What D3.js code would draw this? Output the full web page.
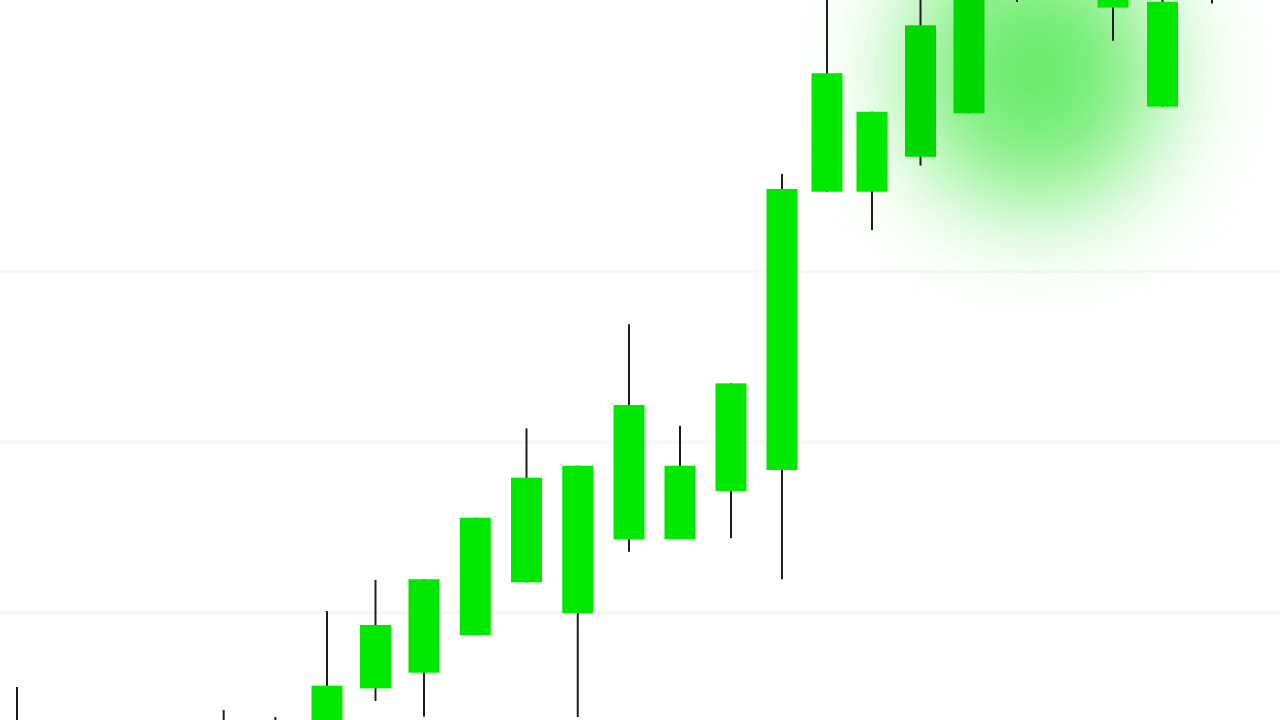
<!DOCTYPE html>
<html>
<head>
<meta charset="utf-8">
<script src="https://cdn.jsdelivr.net/npm/d3@7"></script>
<style>
  html, body { margin: 0; padding: 0; background: #ffffff; overflow: hidden; }
  svg { display: block; }
</style>
</head>
<body>
<svg id="chart" width="1280" height="720"></svg>
<script>
// ---- data (prices in arbitrary units) ----
const days  = ["D1","D2","D3","D4","D5","D6","D7","D8","D9","D10","D11","D12","D13",
               "D14","D15","D16","D17","D18","D19","D20","D21","D22","D23","D24","D25"];
const open  = [5, 0, 5, 10, 10, 15, 35, 55.2, 64.4, 86.5, 117.4, 99.4, 142.6,
               142.8, 171, 183.3, 346.5, 346.5, 367, 392.5, 464.8, 480, 454.5, 396.4, 470];
const close = [30, 20, 25, 28, 30, 34, 56.8, 92.4, 119.2, 155.3, 178.8, 185.8, 221.4,
               185.8, 234.1, 348.1, 416, 393.4, 444.1, 476.5, 500, 510, 500, 457.9, 490];
const high  = [56, 30, 34, 35, 42.5, 38.4, 100.6, 118.8, 119.2, 155.3, 207.7, 185.8, 268.7,
               209.3, 234.1, 356.9, 470.7, 393.4, 467.7, 490, 510, 520, 510, 470, 500];
const low   = [0, -10, -5, 0, 5, 8, 25, 47.8, 38.6, 86.5, 117.4, 38.4, 135.4,
               142.8, 143.2, 119.2, 346.5, 324, 361.8, 392.5, 457.8, 470, 435.1, 396.4, 456.9];
const gridTicks = [100, 200, 300];

// ---- layout ----
const W = 1280, H = 720;
const svg = d3.select("#chart");

const idx = days.map((d, i) => i);
// slightly uneven spacing in the source picture -> piecewise linear index scale
const x = d3.scaleLinear()
  .domain([0, 6, 8, 12, 15, 17, 19, 22, 24])
  .range([17, 327, 424, 629, 782, 872, 969, 1113, 1212]);
const y = d3.scaleLinear()
  .domain([100, 300])
  .range([612, 271]);
const bodyW = 31;

// gridlines
const grid = svg.append("g")
  .attr("class", "grid")
  .call(d3.axisLeft(y).tickValues(gridTicks).tickSize(-W).tickFormat(""))
  .attr("transform", `translate(${W},0) scale(-1,1)`);
grid.select(".domain").remove();
grid.selectAll(".tick line").attr("stroke", "#f7f7f7").attr("stroke-width", 3);

// glow
const defs = svg.append("defs");
const blur = defs.append("filter").attr("id", "glow")
  .attr("x", "-100%").attr("y", "-100%").attr("width", "300%").attr("height", "300%");
blur.append("feGaussianBlur").attr("stdDeviation", 55);
svg.append("ellipse")
  .attr("cx", 1035).attr("cy", 70)
  .attr("rx", 125).attr("ry", 135)
  .attr("fill", "#4fe84f")
  .attr("opacity", 0.85)
  .attr("filter", "url(#glow)");

// candles
const candles = svg.append("g").selectAll("g.candle")
  .data(idx)
  .join("g").attr("class", "candle");

candles.append("line")
  .attr("x1", i => x(i)).attr("x2", i => x(i))
  .attr("y1", i => y(high[i])).attr("y2", i => y(low[i]))
  .attr("stroke", "#1e1e1e").attr("stroke-width", 2);

candles.append("rect")
  .attr("x", i => x(i) - bodyW / 2)
  .attr("width", bodyW)
  .attr("y", i => y(Math.max(open[i], close[i])))
  .attr("height", i => Math.abs(y(open[i]) - y(close[i])))
  .attr("fill", i => (i === 18 || i === 19) ? "#00d800" : "#00e800");
</script>
</body>
</html>
